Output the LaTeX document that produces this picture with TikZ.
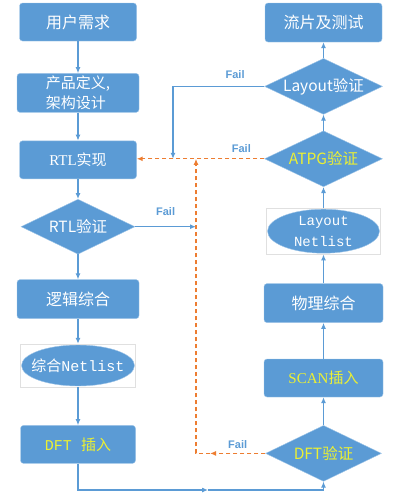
\documentclass[tikz,border=0pt]{standalone}
\usepackage{fontspec}
\setmainfont{Noto Sans CJK SC}
\newfontfamily\monolat{Liberation Mono}
\newfontfamily\seriflat{Liberation Serif}
\newfontfamily\failfont{Liberation Sans}
\usetikzlibrary{positioning,shapes.geometric,arrows.meta}
\definecolor{flowblue}{RGB}{91,155,213}
\definecolor{edgeblue}{RGB}{160,198,232}
\definecolor{failorange}{RGB}{237,125,49}
\definecolor{dftyellow}{RGB}{236,240,50}

\begin{document}
\begin{tikzpicture}[
    x=1pt, y=1pt,
    procbox/.style={
        rectangle,
        draw=edgeblue,
        fill=flowblue,
        rounded corners=3pt,
        minimum width=117pt,
        minimum height=38pt,
        inner sep=2pt,
        text=white,
        font=\fontsize{16}{19}\selectfont
    },
    checkbox/.style={
        diamond,
        aspect=2.1,
        draw=edgeblue,
        fill=flowblue,
        minimum width=118pt,
        minimum height=56pt,
        inner sep=0pt,
        text=white,
        font=\fontsize{15.5}{18}\selectfont
    },
    netbox/.style 2 args={
        rectangle,
        draw=black!12,
        minimum width=2*#1+2pt,
        minimum height=2*#2+2pt,
        inner sep=0pt,
        align=center,
        text=white,
        font=\fontsize{14}{21}\selectfont,
        path picture={\filldraw[fill=flowblue, draw=edgeblue]
            (path picture bounding box.center) ellipse [x radius=#1, y radius=#2];}
    },
    flow/.style={-{Latex[length=6pt,width=5pt]}, draw=flowblue, line width=1.1pt},
    failback/.style={flow, draw=failorange, dash pattern=on 4pt off 3pt, line width=1.3pt},
    fail/.style={text=flowblue, font=\failfont\bfseries\fontsize{11}{13}\selectfont}
]
\useasboundingbox (0,0) rectangle (402,-501);

% left column
\node[procbox] (user) at (78,-22) {用户需求};
\node[procbox, minimum width=122pt, minimum height=39pt, align=left,
      font=\fontsize{15}{20}\selectfont, below=32pt of user] (prod) {产品定义,\\架构设计};
\node[procbox, font=\fontsize{15}{18}\selectfont, below=28pt of prod] (rtl) {{\seriflat RTL}实现};
\node[checkbox, minimum width=114pt, minimum height=55pt, below=20pt of rtl] (rtlv) {RTL验证};
\node[procbox, minimum width=122pt, minimum height=39pt, below=25pt of rtlv] (logic) {逻辑综合};
\node[netbox={56.5pt}{20.5pt}, font=\fontsize{15}{18}\selectfont, below=25pt of logic] (synnet)
    {综合{\monolat Netlist}};
\node[procbox, minimum width=115pt, text=dftyellow, font=\fontsize{15}{18}\selectfont,
      below=38pt of synnet] (dftins) {{\monolat DFT }插入};

% right column
\node[procbox, minimum height=39pt] (chip) at (323.5,-22.5) {流片及测试};
\node[checkbox, below=16pt of chip] (layv) {Layout验证};
\node[checkbox, text=dftyellow, below=16pt of layv] (atpgv) {ATPG验证};
\node[netbox={56pt}{22pt}, below=21pt of atpgv] (laynet) {{\monolat Layout}\\{\monolat Netlist}};
\node[procbox, minimum width=119pt, minimum height=39pt, below=29pt of laynet] (phys) {物理综合};
\node[procbox, minimum width=119pt, text=dftyellow, font=\fontsize{15}{18}\selectfont,
      below=36pt of phys] (scan) {{\seriflat SCAN}插入};
\node[checkbox, minimum width=116pt, text=dftyellow, below=28pt of scan] (dftv) {DFT验证};

\coordinate (riser) at (196,0);
\coordinate (drop) at (173,0);
\coordinate (backmid) at (210,0);
\coordinate (botline) at (208,-490);

% main flow
\draw[flow] (user) -- (prod);
\draw[flow] (prod) -- (rtl);
\draw[flow] (rtl) -- (rtlv);
\draw[flow] (rtlv) -- (logic);
\draw[flow] (logic) -- (synnet);
\draw[flow] (synnet) -- (dftins);
\draw[flow] (dftins.south) |- (botline);
\draw[flow] (botline) -| (dftv.south);
\draw[flow] (dftv) -- (scan);
\draw[flow] (scan) -- (phys);
\draw[flow] (phys) -- (laynet);
\draw[flow] (laynet) -- (atpgv);
\draw[flow] (atpgv) -- (layv);
\draw[flow] (layv) -- (chip);

% fail paths
\draw[flow] (rtlv.east) -- (rtlv.east -| riser) node[fail, midway, above=7pt] {Fail};
\draw[flow] (layv.west) -| (drop |- atpgv) node[fail, pos=0.16, above=4pt] {Fail};
\draw[failback] (atpgv.west) -- (atpgv.west -| rtl.east) node[fail, pos=0.18, above=2pt] {Fail};
\draw[failback] (dftv.west) -- (dftv.west -| backmid) node[fail, midway, above=1pt] {Fail};
\draw[failback] (dftv.west -| backmid) -- (dftv.west -| riser) -- (riser |- atpgv);

\end{tikzpicture}
\end{document}
